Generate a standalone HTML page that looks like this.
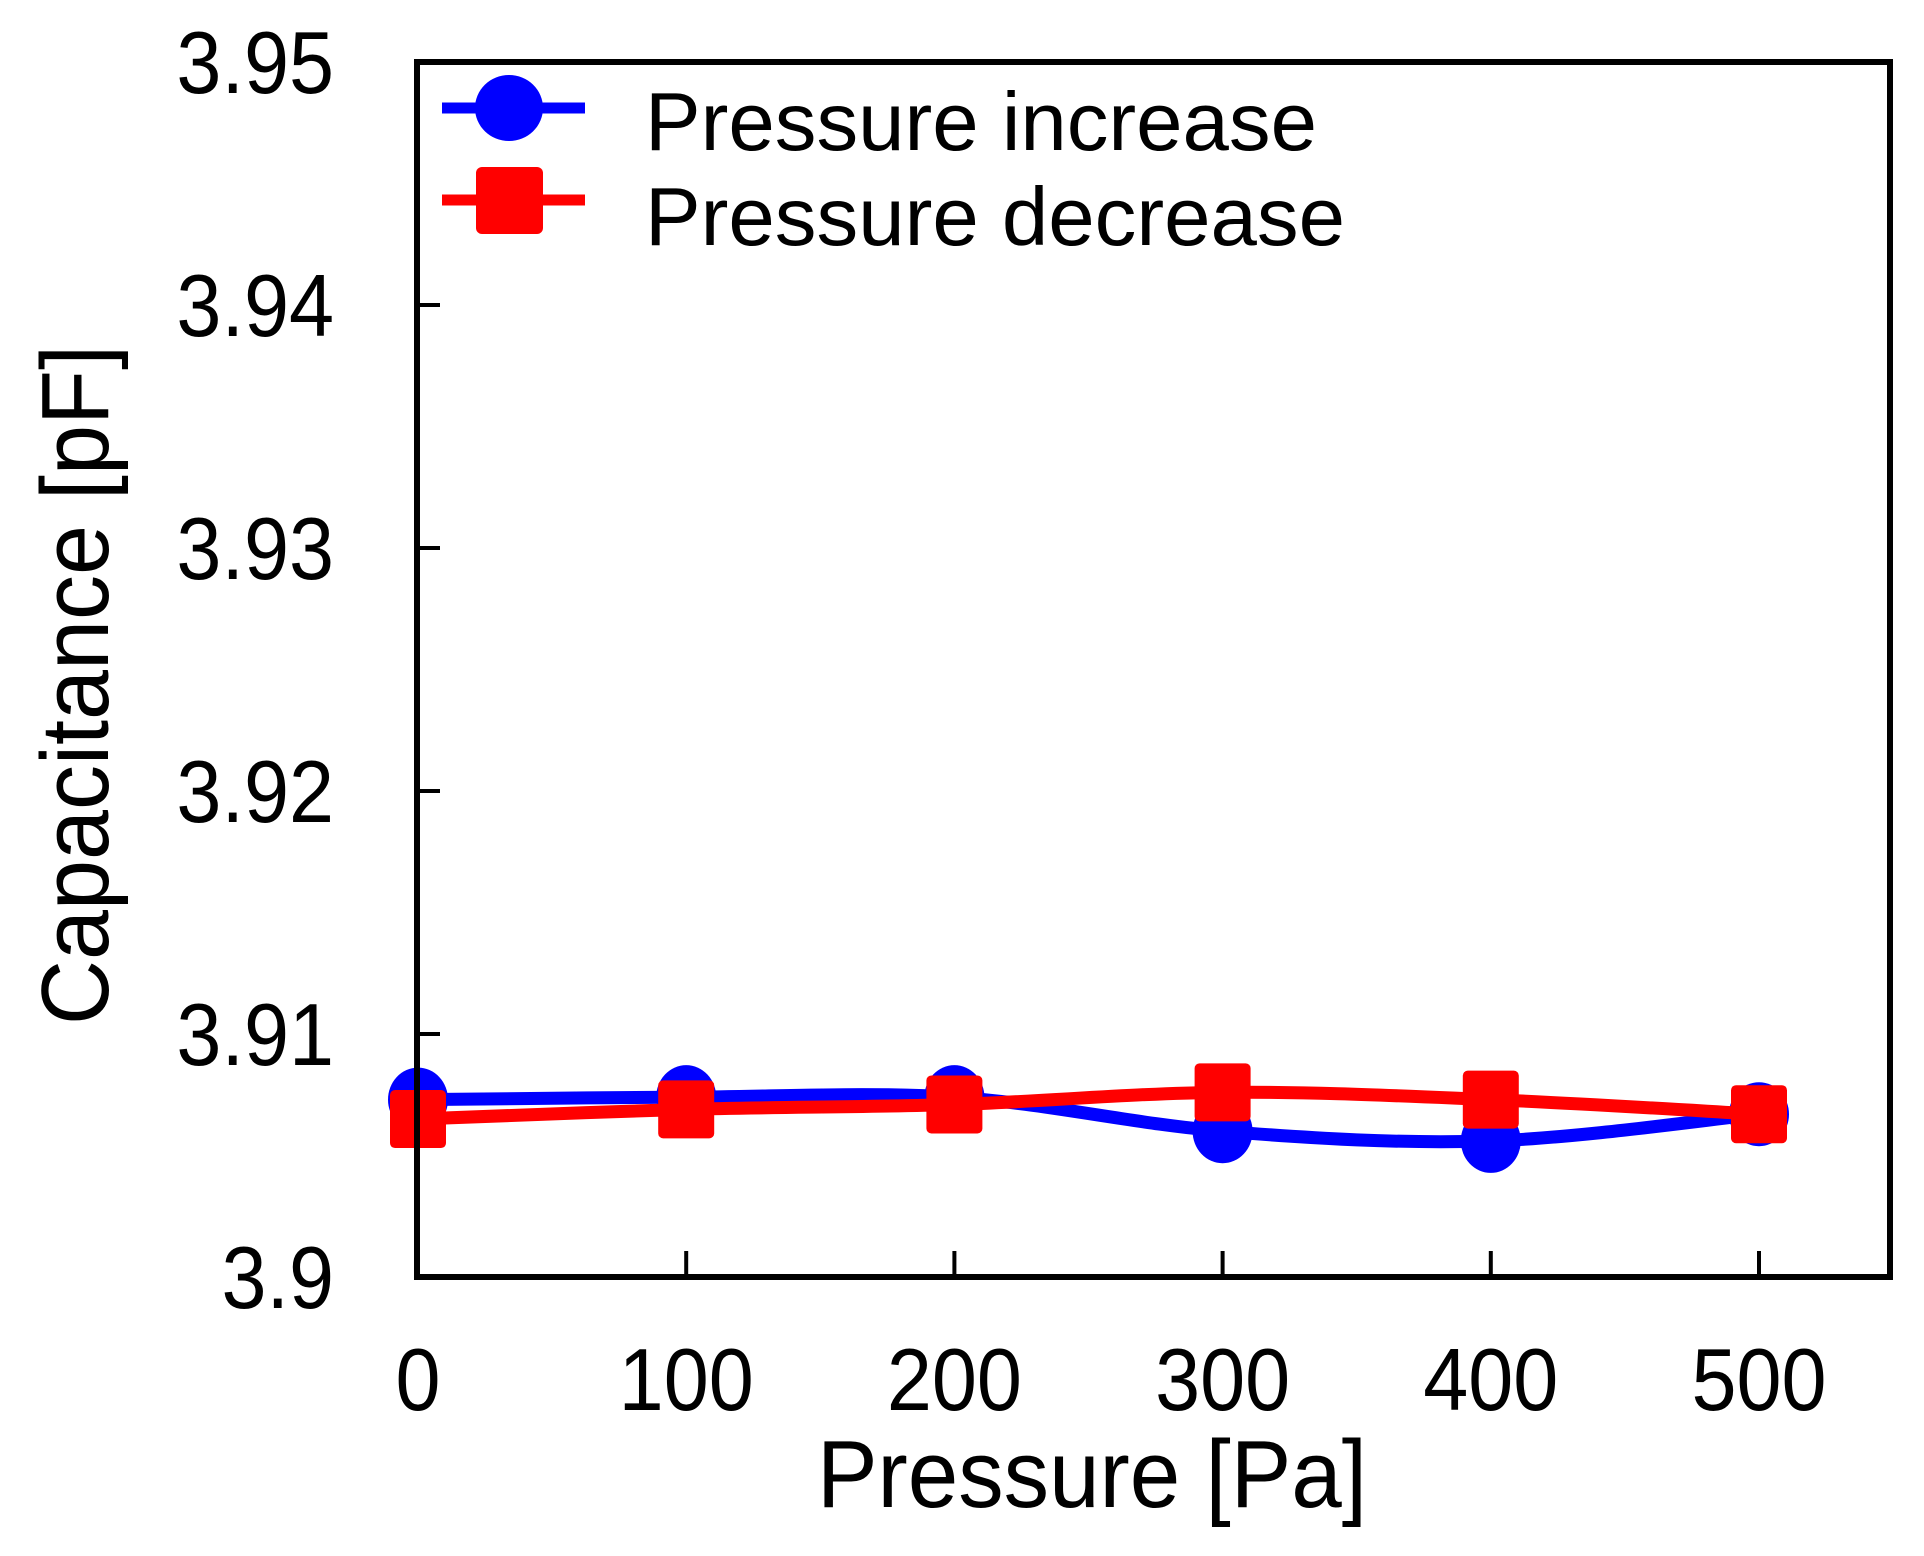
<!DOCTYPE html>
<html><head><meta charset="utf-8"><style>
html,body{margin:0;padding:0;background:#fff;}
svg{display:block;font-family:"Liberation Sans",Arial,sans-serif;}
</style></head><body>
<svg id="chart" width="1924" height="1556" viewBox="0 0 1924 1556" xmlns="http://www.w3.org/2000/svg">
<rect width="1924" height="1556" fill="#fff"/>
<g id="marks"></g>
<rect x="417" y="62" width="1473" height="1215" fill="none" stroke="#000" stroke-width="6"/>
<g id="axes"></g>
<text x="1092" y="1507" font-size="96" text-anchor="middle" textLength="550" lengthAdjust="spacingAndGlyphs">Pressure [Pa]</text>
<text transform="translate(108,685) rotate(-90)" font-size="96" text-anchor="middle" textLength="680" lengthAdjust="spacingAndGlyphs">Capacitance [pF]</text>
<g>
<line x1="442" y1="108" x2="585" y2="108" stroke="#0000ff" stroke-width="11"/>
<ellipse cx="509" cy="108" rx="34" ry="33" fill="#0000ff"/>
<text x="645" y="150" font-size="83" textLength="672" lengthAdjust="spacingAndGlyphs">Pressure increase</text>
<line x1="442" y1="200" x2="585" y2="200" stroke="#ff0000" stroke-width="11"/>
<rect x="476" y="167" width="67" height="67" rx="6" fill="#ff0000"/>
<text x="645" y="245" font-size="83" textLength="700" lengthAdjust="spacingAndGlyphs">Pressure decrease</text>
</g>
</svg>
<script>
const xCategories = [0, 100, 200, 300, 400, 500];
const increaseValues = [3.9073, 3.9074, 3.9074, 3.9060, 3.9056, 3.9067];
const decreaseValues = [3.9065, 3.9069, 3.9071, 3.9076, 3.9073, 3.9067];
const yTickLabels = ["3.9", "3.91", "3.92", "3.93", "3.94", "3.95"];
const yTickValues = [3.90, 3.91, 3.92, 3.93, 3.94, 3.95];
const xTickLabels = ["0", "100", "200", "300", "400", "500"];

const NS = "http://www.w3.org/2000/svg";
const X0 = 418, XW = 1341, Y0 = 1277, YH = 1215;
function xScale(v){ return X0 + (v - 0) / 500 * XW; }
function yScale(v){ return Y0 - (v - 3.9) / 0.05 * YH; }
function mk(tag, attrs, parent){
  const e = document.createElementNS(NS, tag);
  for (const k in attrs) e.setAttribute(k, attrs[k]);
  parent.appendChild(e); return e;
}
const axes = document.getElementById('axes');
const marks = document.getElementById('marks');

yTickValues.forEach((v, i) => {
  const y = yScale(v);
  if (i > 0 && i < yTickValues.length - 1) {
    const t = mk('line', {x1: 417, y1: y, x2: 440, y2: y, stroke: '#000', 'stroke-width': 4}, axes);
    
    
  }
  const l = mk('text', {transform: 'translate(334,' + (y + 31) + ') scale(0.92,1)', 'font-size': 88, 'text-anchor': 'end'}, axes);
  l.textContent = yTickLabels[i];
  
  
});
xCategories.forEach((c, i) => {
  const x = xScale(c);
  if (i > 0) {
    const t = mk('line', {x1: x, y1: 1277, x2: x, y2: 1251, stroke: '#000', 'stroke-width': 4}, axes);
    
    
  }
  const l = mk('text', {transform: 'translate(' + x + ',1410) scale(0.92,1)', 'font-size': 88, 'text-anchor': 'middle'}, axes);
  l.textContent = xTickLabels[i];
  
  
});

function smoothPath(pts){
  let d = 'M' + pts[0][0] + ',' + pts[0][1];
  for (let i = 0; i < pts.length - 1; i++) {
    const p0 = pts[i-1] || pts[i], p1 = pts[i], p2 = pts[i+1], p3 = pts[i+2] || p2;
    const c1 = [p1[0] + (p2[0]-p0[0])/6, p1[1] + (p2[1]-p0[1])/6];
    const c2 = [p2[0] - (p3[0]-p1[0])/6, p2[1] - (p3[1]-p1[1])/6];
    d += ' C' + c1 + ' ' + c2 + ' ' + p2;
  }
  return d;
}
function series(vals, color, kind){
  const pts = xCategories.map((c, i) => [xScale(c), yScale(vals[i])]);
  const p = mk('path', {d: smoothPath(pts), fill: 'none', stroke: color, 'stroke-width': 13}, marks);
  
  
  pts.forEach((pt, i) => {
    let m;
    if (kind === 'increase') m = mk('ellipse', {cx: pt[0], cy: pt[1], rx: 30, ry: 32, fill: color}, marks);
    else m = mk('rect', {x: pt[0]-28, y: pt[1]-29, width: 56, height: 58, rx: 5, fill: color}, marks);
    
    
  });
}
series(increaseValues, '#0000ff', 'increase');
series(decreaseValues, '#ff0000', 'decrease');
</script>
</body></html>
